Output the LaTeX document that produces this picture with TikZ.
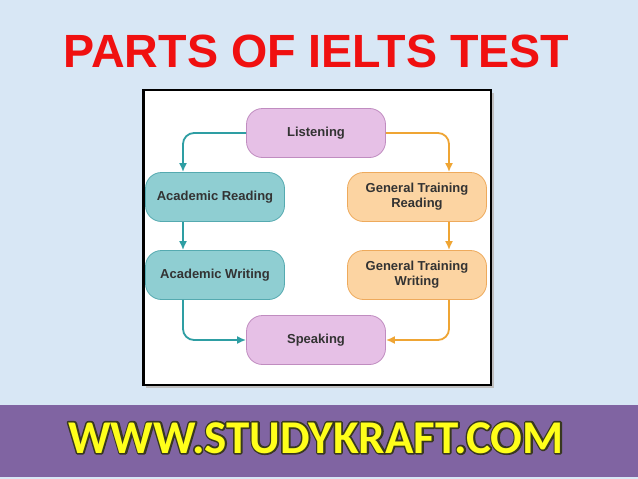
\documentclass[tikz,border=0pt]{standalone}
\usepackage{fontspec}
\setmainfont{Liberation Sans}
\newfontfamily\bannerfont{Carlito}
\usetikzlibrary{arrows.meta,calc}
\definecolor{bgblue}{HTML}{D8E7F5}
\definecolor{titlered}{HTML}{F01010}
\definecolor{bandpurple}{HTML}{8064A2}
\definecolor{banneryellow}{HTML}{FFFF1A}
\definecolor{pinkfill}{HTML}{E6C0E6}
\definecolor{pinkdraw}{HTML}{C08CC0}
\definecolor{tealfill}{HTML}{8FCED2}
\definecolor{tealdraw}{HTML}{55AAB0}
\definecolor{orangefill}{HTML}{FCD4A2}
\definecolor{orangedraw}{HTML}{EEAA5C}
\definecolor{tealline}{HTML}{2E9EA3}
\definecolor{orangeline}{HTML}{EFA534}
\definecolor{textdark}{HTML}{333333}
\newcommand{\strokedtext}[1]{\special{pdf:literal direct 1 Tr 3.4 w 0.22 0.22 0.12 RG 1 j}#1\special{pdf:literal direct 0 Tr 0 0 0 RG}}
\tikzset{
  box/.style={rounded corners=16pt, minimum width=139pt, minimum height=49pt,
    inner sep=0pt, line width=0.8pt, align=center, text=textdark,
    font=\fontsize{13}{15}\selectfont\bfseries},
  pinkbox/.style={box, fill=pinkfill, draw=pinkdraw},
  tealbox/.style={box, fill=tealfill, draw=tealdraw},
  orangebox/.style={box, fill=orangefill, draw=orangedraw},
  tealarrow/.style={draw=tealline, line width=1.8pt, rounded corners=11pt,
    -{Latex[length=9pt,width=8pt]}},
  orangearrow/.style={draw=orangeline, line width=1.8pt, rounded corners=11pt,
    -{Latex[length=9pt,width=8pt]}},
  bannertext/.style={font=\bannerfont\bfseries\fontsize{47}{50}\selectfont, anchor=base, inner sep=0pt}
}
\begin{document}
\begin{tikzpicture}[x=1pt,y=-1pt]
  \fill[bgblue] (0,0) rectangle (638,479);
  \useasboundingbox (0,0) rectangle (638,479);
  % title
  \node[anchor=base, inner sep=0pt, text=titlered,
        font=\fontsize{46.6}{50}\selectfont\bfseries] (title) at (316.5,67) {PARTS OF IELTS TEST};
  % frame
  \fill[black!25] (146,93) rectangle (494,388);
  \draw[fill=white, line width=2.8pt] (143.5,90) rectangle (491,385);
  % nodes
  \node[pinkbox] (L) at (316,133) {Listening};
  \node[tealbox] (AR) at (215,197) {Academic Reading};
  \node[tealbox] (AW) at (215,275) {Academic Writing};
  \node[orangebox] (GR) at (417,197) {General Training\\Reading};
  \node[orangebox] (GW) at (417,275) {General Training\\Writing};
  \node[pinkbox] (S) at (316,340) {Speaking};
  % connectors
  \draw[tealarrow] (L.west) -| ([xshift=-32pt]AR.north);
  \draw[tealarrow] ([xshift=-32pt]AR.south) -- ([xshift=-32pt]AW.north);
  \draw[tealarrow] ([xshift=-32pt]AW.south) |- (S.west);
  \draw[orangearrow] (L.east) -| ([xshift=32pt]GR.north);
  \draw[orangearrow] ([xshift=32pt]GR.south) -- ([xshift=32pt]GW.north);
  \draw[orangearrow] ([xshift=32pt]GW.south) |- (S.east);
  % banner
  \fill[bandpurple] (0,405) rectangle (638,477);
  \node[bannertext] (bannerline) at (316,453) {\strokedtext{WWW.STUDYKRAFT.COM}};
  \node[bannertext, text=banneryellow] (banner) at (316,453) {WWW.STUDYKRAFT.COM};
\end{tikzpicture}
\end{document}
